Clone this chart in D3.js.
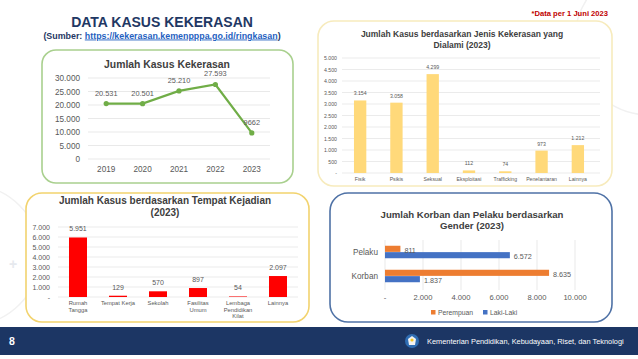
<!DOCTYPE html>
<html lang="id">
<head>
<meta charset="UTF-8">
<title>Data Kasus Kekerasan</title>
<script src="https://d3js.org/d3.v7.min.js"></script>
<style>
    body { margin: 0; padding: 0; background: #fff; }
    svg { display: block; font-family: "Liberation Sans", Arial, sans-serif; }
</style>
</head>
<body>
<div id="main"></div>
<script>
    // data
    var years = ['2019', '2020', '2021', '2022', '2023'];
    var totalCases = [20531, 20501, 25210, 27593, 9662];
    var totalLabels = ['20.531', '20.501', '25.210', '27.593', '9662'];
    var totalTicks = [0, 5000, 10000, 15000, 20000, 25000, 30000];

    var violenceTypes = ['Fisik', 'Psikis', 'Seksual', 'Eksploitasi', 'Trafficking', 'Penelantaran', 'Lainnya'];
    var violenceCounts = [3154, 3058, 4299, 112, 74, 973, 1212];
    var violenceTicks = [0, 500, 1000, 1500, 2000, 2500, 3000, 3500, 4000, 4500, 5000];

    var places = [['Rumah', 'Tangga'], ['Tempat Kerja'], ['Sekolah'], ['Fasilitas', 'Umum'], ['Lembaga', 'Pendidikan', 'Kilat'], ['Lainnya']];
    var placeCounts = [5951, 129, 570, 897, 54, 2097];
    var placeTicks = [0, 1000, 2000, 3000, 4000, 5000, 6000, 7000];

    var genderGroups = ['Pelaku', 'Korban'];
    var perempuan = [811, 8635];
    var lakiLaki = [6572, 1837];
    var genderSeries = ['Perempuan', 'Laki-Laki'];
    var genderTicks = [0, 2000, 4000, 6000, 8000, 10000];

    var width = 638, height = 359;
    var idLocale = d3.formatLocale({ decimal: ',', thousands: '.', grouping: [3], currency: ['', ''] });
    var fmt = idLocale.format(',');
    var tickFmt = function(v) { return v === 0 ? '-' : fmt(v); };
    var grey = '#595959', grid = '#e3e3e3';

    var svg = d3.select('#main').append('svg')
        .attr('width', width).attr('height', height);

    // faint background decoration
    var deco = svg.append('g').attr('fill', 'none').attr('stroke', '#f1f1f1').attr('stroke-width', 1.5);
    deco.append('circle').attr('cx', -30).attr('cy', 255).attr('r', 70);
    deco.append('circle').attr('cx', 650).attr('cy', 40).attr('r', 75);
    svg.append('text').attr('x', 13).attr('y', 269).attr('text-anchor', 'middle')
        .attr('font-size', 14).attr('font-weight', 'bold').attr('fill', '#e6e9ee').text('+');

    // header
    svg.append('text').attr('x', 162).attr('y', 27).attr('text-anchor', 'middle')
        .attr('font-size', 14).attr('font-weight', 'bold').attr('fill', '#1f3864')
        .text('DATA KASUS KEKERASAN');
    var sub = svg.append('text').attr('x', 162).attr('y', 38.5).attr('text-anchor', 'middle')
        .attr('font-size', 8.9).attr('font-weight', 'bold').attr('fill', '#1f3864');
    sub.append('tspan').text('(Sumber: ');
    sub.append('tspan').attr('fill', '#1f5fbf').attr('text-decoration', 'underline')
        .text('https://kekerasan.kemenpppa.go.id/ringkasan');
    sub.append('tspan').text(')');

    svg.append('text').attr('x', 608).attr('y', 16).attr('text-anchor', 'end')
        .attr('font-size', 7.6).attr('font-weight', 'bold').attr('fill', '#c00000')
        .text('*Data per 1 Juni 2023');

    function panel(x, y, w, h, stroke, r) {
        svg.append('rect').attr('x', x).attr('y', y).attr('width', w).attr('height', h)
            .attr('rx', r).attr('ry', r).attr('fill', '#fff')
            .attr('stroke', stroke).attr('stroke-width', 1.6);
    }

    function title(lines, x, y, size, lh) {
        var t = svg.append('text').attr('text-anchor', 'middle').attr('font-size', size)
            .attr('font-weight', 'bold').attr('fill', '#404040');
        lines.forEach(function(l, i) {
            t.append('tspan').attr('x', x).attr('y', y + i * lh).text(l);
        });
    }

    // ---- panel 1: line chart
    panel(42, 50, 251, 133, '#a9d08e', 14);
    title(['Jumlah Kasus Kekerasan'], 167, 68, 10.4, 0);

    var x1 = d3.scaleBand().domain(years).range([88, 270]);
    var y1 = d3.scaleLinear().domain([0, 30000]).range([159, 78]);
    var g1 = svg.append('g');
    g1.selectAll('.grid').data(totalTicks).enter().append('line')
        .attr('x1', 88).attr('x2', 270)
        .attr('y1', function(d) { return y1(d); }).attr('y2', function(d) { return y1(d); })
        .attr('stroke', grid).attr('stroke-width', 0.8);
    g1.selectAll('.yl').data(totalTicks).enter().append('text')
        .attr('x', 80).attr('y', function(d) { return y1(d) + 3; })
        .attr('text-anchor', 'end').attr('font-size', 8.2).attr('fill', grey)
        .text(function(d) { return d === 0 ? '0' : fmt(d); });
    g1.selectAll('.xl').data(years).enter().append('text')
        .attr('x', function(d) { return x1(d) + x1.bandwidth() / 2; }).attr('y', 172)
        .attr('text-anchor', 'middle').attr('font-size', 8.2).attr('fill', grey)
        .text(function(d) { return d; });

    var line = d3.line()
        .x(function(d, i) { return x1(years[i]) + x1.bandwidth() / 2; })
        .y(function(d) { return y1(d); });
    g1.append('path').datum(totalCases).attr('d', line)
        .attr('fill', 'none').attr('stroke', '#70ad47').attr('stroke-width', 2.2);
    g1.selectAll('.pt').data(totalCases).enter().append('circle')
        .attr('cx', function(d, i) { return x1(years[i]) + x1.bandwidth() / 2; })
        .attr('cy', function(d) { return y1(d); })
        .attr('r', 2.6).attr('fill', '#70ad47');
    g1.selectAll('.dl').data(totalCases).enter().append('text')
        .attr('x', function(d, i) { return x1(years[i]) + x1.bandwidth() / 2; })
        .attr('y', function(d) { return y1(d) - 8; })
        .attr('text-anchor', 'middle').attr('font-size', 7.4).attr('fill', grey)
        .text(function(d, i) { return totalLabels[i]; });

    // ---- panel 2: jenis kekerasan
    panel(318, 21, 294, 165, '#f7ebbd', 16);
    title(['Jumlah Kasus berdasarkan Jenis Kekerasan yang', 'Dialami (2023)'], 462, 37, 8.5, 10.5);

    var x2 = d3.scaleBand().domain(violenceTypes).range([342, 596]);
    var y2 = d3.scaleLinear().domain([0, 5000]).range([173, 58]);
    var g2 = svg.append('g');
    g2.selectAll('.grid').data(violenceTicks).enter().append('line')
        .attr('x1', 342).attr('x2', 600)
        .attr('y1', function(d) { return y2(d); }).attr('y2', function(d) { return y2(d); })
        .attr('stroke', grid).attr('stroke-width', 0.7);
    g2.selectAll('.yl').data(violenceTicks).enter().append('text')
        .attr('x', 337).attr('y', function(d) { return y2(d) + 2; })
        .attr('text-anchor', 'end').attr('font-size', 5.2).attr('fill', grey)
        .text(tickFmt);
    var bw2 = x2.bandwidth() * 0.34;
    g2.selectAll('.bar').data(violenceCounts).enter().append('rect')
        .attr('x', function(d, i) { return x2(violenceTypes[i]) + (x2.bandwidth() - bw2) / 2; })
        .attr('y', function(d) { return y2(d); })
        .attr('width', bw2).attr('height', function(d) { return y2(0) - y2(d); })
        .attr('fill', '#ffd97a');
    g2.selectAll('.dl').data(violenceCounts).enter().append('text')
        .attr('x', function(d, i) { return x2(violenceTypes[i]) + x2.bandwidth() / 2; })
        .attr('y', function(d) { return y2(d) - 5; })
        .attr('text-anchor', 'middle').attr('font-size', 5.2).attr('fill', grey)
        .text(fmt);
    g2.selectAll('.xl').data(violenceTypes).enter().append('text')
        .attr('x', function(d) { return x2(d) + x2.bandwidth() / 2; }).attr('y', 181)
        .attr('text-anchor', 'middle').attr('font-size', 5.2).attr('fill', grey)
        .text(function(d) { return d; });

    // ---- panel 3: tempat kejadian
    panel(26, 193, 283, 129, '#f2d36e', 16);
    title(['Jumlah Kasus berdasarkan Tempat Kejadian', '(2023)'], 165, 204, 10, 12);

    var x3 = d3.scaleBand().domain(d3.range(places.length)).range([58, 298]);
    var y3 = d3.scaleLinear().domain([0, 7000]).range([297, 227]);
    var g3 = svg.append('g');
    g3.selectAll('.grid').data(placeTicks).enter().append('line')
        .attr('x1', 58).attr('x2', 298)
        .attr('y1', function(d) { return y3(d); }).attr('y2', function(d) { return y3(d); })
        .attr('stroke', grid).attr('stroke-width', 0.7);
    g3.selectAll('.yl').data(placeTicks).enter().append('text')
        .attr('x', 50).attr('y', function(d) { return y3(d) + 2.5; })
        .attr('text-anchor', 'end').attr('font-size', 7).attr('fill', grey)
        .text(tickFmt);
    var bw3 = x3.bandwidth() * 0.45;
    g3.selectAll('.bar').data(placeCounts).enter().append('rect')
        .attr('x', function(d, i) { return x3(i) + (x3.bandwidth() - bw3) / 2; })
        .attr('y', function(d) { return y3(d); })
        .attr('width', bw3).attr('height', function(d) { return y3(0) - y3(d); })
        .attr('fill', '#ff0000');
    g3.selectAll('.dl').data(placeCounts).enter().append('text')
        .attr('x', function(d, i) { return x3(i) + x3.bandwidth() / 2; })
        .attr('y', function(d) { return y3(d) - 6; })
        .attr('text-anchor', 'middle').attr('font-size', 7).attr('fill', grey)
        .text(fmt);
    var xl3 = g3.selectAll('.xl').data(places).enter().append('text')
        .attr('text-anchor', 'middle').attr('font-size', 5.8).attr('fill', grey);
    xl3.each(function(lines, i) {
        var t = d3.select(this);
        lines.forEach(function(l, j) {
            t.append('tspan').attr('x', x3(i) + x3.bandwidth() / 2).attr('y', 305 + j * 6.5).text(l);
        });
    });

    // ---- panel 4: gender
    panel(330, 193, 282, 129, '#4f72a6', 18);
    title(['Jumlah Korban dan Pelaku berdasarkan', 'Gender (2023)'], 472, 218, 9.6, 11);

    var x4 = d3.scaleLinear().domain([0, 10000]).range([385, 575]);
    var y4 = d3.scaleBand().domain(genderGroups).range([240, 288]);
    var y4s = d3.scaleBand().domain(genderSeries).range([0, 13]).padding(0.04);
    var colors = { 'Perempuan': '#ed7d31', 'Laki-Laki': '#4472c4' };
    var g4 = svg.append('g');
    g4.selectAll('.grid').data(genderTicks).enter().append('line')
        .attr('x1', function(d) { return x4(d); }).attr('x2', function(d) { return x4(d); })
        .attr('y1', 240).attr('y2', 290)
        .attr('stroke', grid).attr('stroke-width', 0.8);
    g4.selectAll('.xl').data(genderTicks).enter().append('text')
        .attr('x', function(d) { return x4(d); }).attr('y', 300)
        .attr('text-anchor', 'middle').attr('font-size', 7.6).attr('fill', grey)
        .text(tickFmt);
    g4.selectAll('.yl').data(genderGroups).enter().append('text')
        .attr('x', 378).attr('y', function(d) { return y4(d) + y4.bandwidth() / 2 + 3; })
        .attr('text-anchor', 'end').attr('font-size', 8.2).attr('fill', grey)
        .text(function(d) { return d; });

    var rows = [];
    genderGroups.forEach(function(g, i) {
        rows.push({ group: g, series: 'Perempuan', value: perempuan[i] });
        rows.push({ group: g, series: 'Laki-Laki', value: lakiLaki[i] });
    });
    var off = (y4.bandwidth() - 13) / 2;
    g4.selectAll('.bar').data(rows).enter().append('rect')
        .attr('x', x4(0))
        .attr('y', function(d) { return y4(d.group) + off + y4s(d.series); })
        .attr('width', function(d) { return x4(d.value) - x4(0); })
        .attr('height', y4s.bandwidth())
        .attr('fill', function(d) { return colors[d.series]; });
    g4.selectAll('.dl').data(rows).enter().append('text')
        .attr('x', function(d) { return x4(d.value) + 4; })
        .attr('y', function(d) { return y4(d.group) + off + y4s(d.series) + y4s.bandwidth() / 2 + 4; })
        .attr('font-size', 7.2).attr('fill', grey)
        .text(function(d) { return fmt(d.value); });

    var lg = g4.selectAll('.lg').data(genderSeries).enter().append('g')
        .attr('transform', function(d, i) { return 'translate(' + (431 + i * 52) + ',315)'; });
    lg.append('rect').attr('x', 0).attr('y', -5).attr('width', 4.5).attr('height', 4.5)
        .attr('fill', function(d) { return colors[d]; });
    lg.append('text').attr('x', 7).attr('y', 0).attr('font-size', 6.8).attr('fill', grey)
        .text(function(d) { return d; });

    // ---- footer
    svg.append('rect').attr('x', 0).attr('y', 327).attr('width', width).attr('height', 28)
        .attr('fill', '#1c3664');
    svg.append('text').attr('x', 9).attr('y', 345).attr('font-size', 10.5)
        .attr('font-weight', 'bold').attr('fill', '#fff').text('8');
    var logo = svg.append('g').attr('transform', 'translate(412,341)');
    logo.append('circle').attr('r', 7).attr('fill', '#2f6db3');
    logo.append('path').attr('d', 'M-4,-2 L0,-5 L4,-2 L3,4 L-3,4 Z').attr('fill', '#f2f2f2');
    logo.append('circle').attr('cy', -1).attr('r', 1.6).attr('fill', '#f3c623');
    svg.append('text').attr('x', 427).attr('y', 343.5).attr('font-size', 7.4)
        .attr('fill', '#fff').text('Kementerian Pendidikan, Kebudayaan, Riset, dan Teknologi');
</script>
</body>
</html>
